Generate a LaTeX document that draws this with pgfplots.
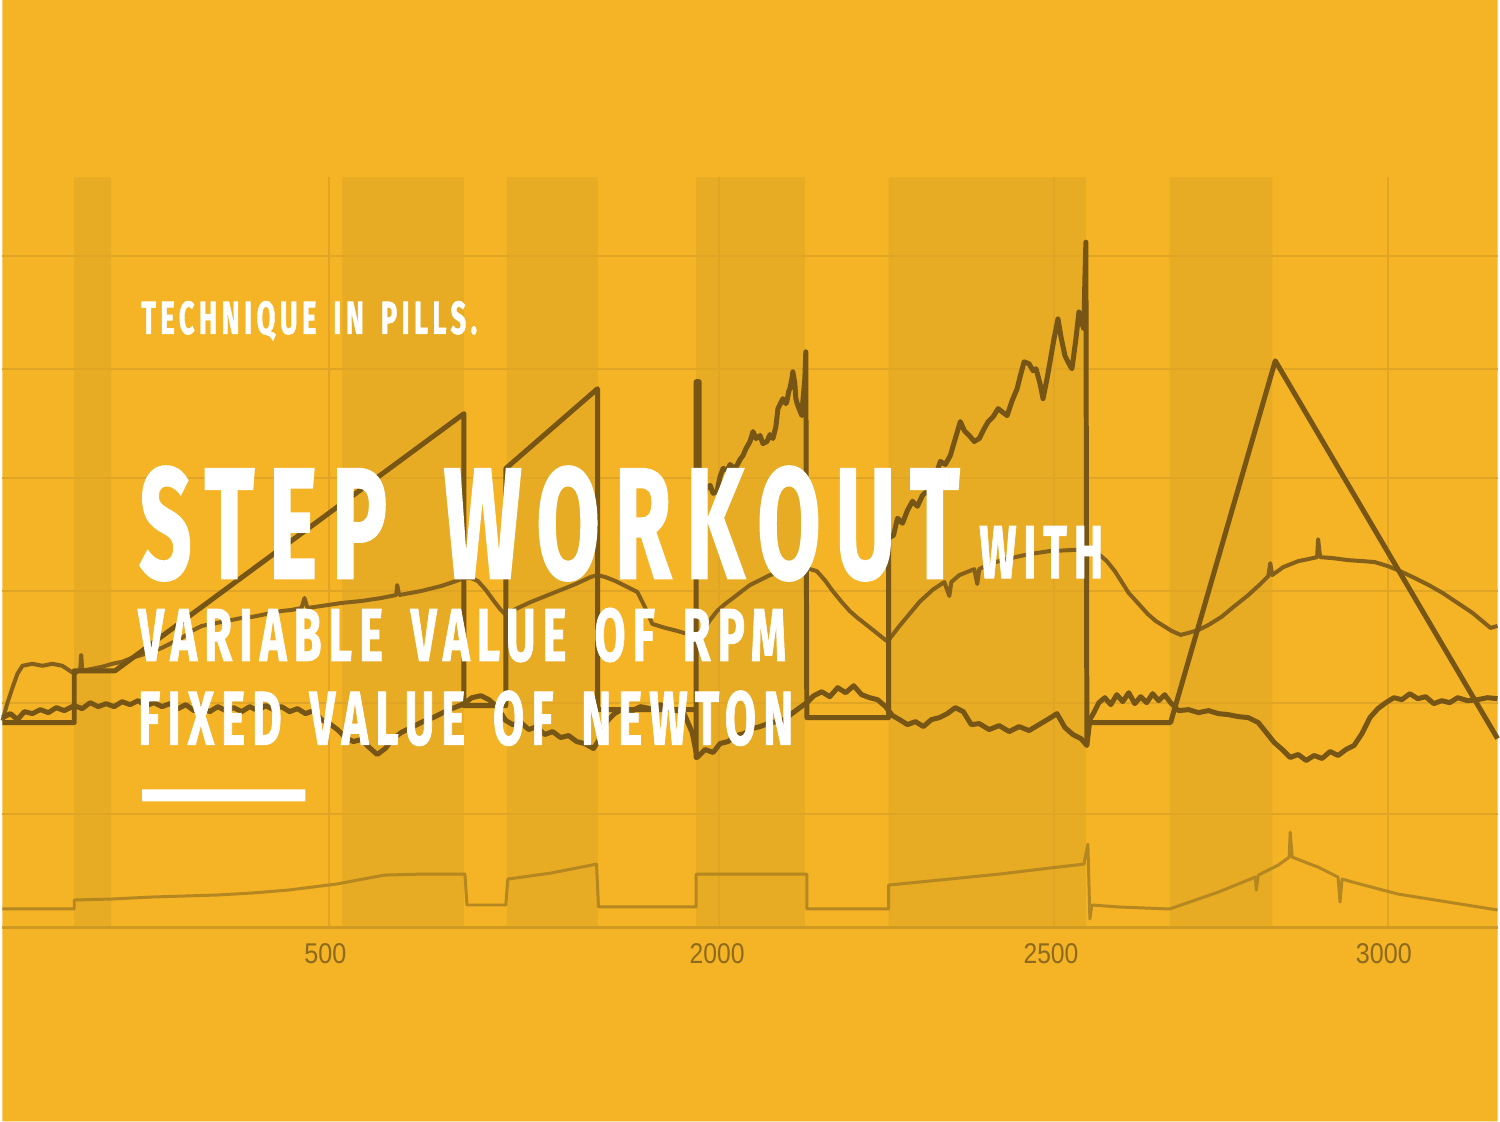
\documentclass[border=0pt]{standalone}
\usepackage{fontspec}
\setmainfont{Fira Sans}
\newfontfamily\headfont{Fira Sans}[LetterSpace=16, FakeBold=1.5]
\newfontfamily\tickfont{Liberation Sans}
\usepackage{graphicx}
\usepackage{pgfplots}
\pgfplotsset{compat=1.18}
\definecolor{bg}{HTML}{F5B326}
\definecolor{band}{HTML}{E7AB24}
\definecolor{gridc}{HTML}{E0A524}
\definecolor{axisc}{HTML}{CF9A24}
\definecolor{dk}{HTML}{775514}
\definecolor{md}{HTML}{84601A}
\definecolor{lt}{HTML}{B48720}
\definecolor{tickc}{HTML}{8C6A1E}
\newcommand{\fit}[3]{\resizebox{#1pt}{#2pt}{\raisebox{0pt}[\height][0pt]{#3}}}
\newcommand{\ws}{\ \hspace{0.22em}}
\begin{document}
\begin{tikzpicture}
\begin{axis}[
  scale only axis, width=1500pt, height=1125pt,
  xmin=0, xmax=1500, ymin=0, ymax=1125, y dir=reverse,
  axis lines=none, xtick=\empty, ytick=\empty, clip=false,
]
% background
\addplot[fill=bg, draw=none] coordinates {(0,0)(1500,0)(1500,1125)(0,1125)(0,0)};
% shaded bands
\addplot[fill=band, draw=none] coordinates {(72,178)(109,178)(109,931)(72,931)(72,178)};
\addplot[fill=band, draw=none] coordinates {(341,178)(463,178)(463,931)(341,931)(341,178)};
\addplot[fill=band, draw=none] coordinates {(506,178)(597,178)(597,931)(506,931)(506,178)};
\addplot[fill=band, draw=none] coordinates {(696,178)(805,178)(805,931)(696,931)(696,178)};
\addplot[fill=band, draw=none] coordinates {(889,178)(1087,178)(1087,931)(889,931)(889,178)};
\addplot[fill=band, draw=none] coordinates {(1171,178)(1274,178)(1274,931)(1171,931)(1171,178)};
% grid
\addplot[gridc, line width=2pt] coordinates {(0,257)(1500,257)};
\addplot[gridc, line width=2pt] coordinates {(0,370)(1500,370)};
\addplot[gridc, line width=2pt] coordinates {(0,480)(1500,480)};
\addplot[gridc, line width=2pt] coordinates {(0,593)(1500,593)};
\addplot[gridc, line width=2pt] coordinates {(0,705)(1500,705)};
\addplot[gridc, line width=2pt] coordinates {(0,817)(1500,817)};
\addplot[gridc, line width=2pt] coordinates {(328,178)(328,931)};
\addplot[gridc, line width=2pt] coordinates {(719,178)(719,931)};
\addplot[gridc, line width=2pt] coordinates {(1055,178)(1055,931)};
\addplot[gridc, line width=2pt] coordinates {(1390,178)(1390,931)};
\addplot[axisc, line width=3pt] coordinates {(0,931)(1500,931)};
% series D (bottom, light)
\addplot[lt, line width=3pt, line join=round] coordinates {
(0,912)(72,912)(72,903)(110,902)(150,900)(215,898)(250,896)(287,893)(335,887)(383,878)(420,877)(464,877)(466,908)(505,908)(507,882)(550,876)(596,867)(598,910)(696,910)(696,877)(807,877)(807,912)(889,912)(889,888)(950,882)(1000,877)(1050,871)(1085,867)(1089,847)(1091,922)(1093,908)(1120,910)(1171,912)(1220,895)(1257,880)(1258,893)(1260,878)(1280,868)(1291,860)(1292,835)(1294,860)(1320,870)(1340,880)(1342,905)(1344,882)(1362,887)(1400,897)(1450,905)(1500,913)};
% series B (smooth cadence-like)
\addplot[md, line width=4pt, line join=round] coordinates {
(0,723)(5,705)(10,690)(15,676)(20,668)(30,666)(40,668)(50,666)(60,668)(66,672)(72,676)(78,672)(79,657)(80,673)(90,671)(100,669)(110,666)(120,664)(130,660)(140,657)(150,654)(160,650)(170,645)(180,640)(190,633)(200,628)(210,626)(220,624)(230,622)(240,620)(250,619)(260,617)(270,615)(280,613)(290,612)(300,610)(303,600)(306,610)(320,608)(340,605)(360,603)(380,600)(395,597)(396,587)(398,597)(420,593)(440,588)(455,583)(463,580)(470,580)(477,583)(485,592)(493,603)(500,612)(505,617)(515,611)(530,604)(545,598)(560,592)(575,586)(590,579)(597,577)(605,579)(615,583)(625,588)(637,594)(645,610)(652,626)(665,630)(677,633)(690,637)(697,640)(703,633)(710,622)(717,613)(725,606)(733,600)(742,593)(750,587)(760,582)(770,577)(783,573)(795,571)(803,570)(810,571)(817,573)(825,582)(833,593)(842,604)(850,613)(858,620)(867,627)(877,635)(887,643)(890,641)(900,628)(910,616)(920,604)(933,592)(945,584)(950,598)(952,584)(960,577)(975,571)(978,586)(980,571)(990,566)(1000,563)(1016,559)(1030,556)(1050,553)(1070,552)(1091,551)(1100,556)(1108,563)(1116,573)(1123,584)(1130,595)(1140,606)(1149,616)(1157,623)(1165,628)(1173,633)(1182,637)(1190,635)(1200,632)(1210,627)(1223,619)(1235,609)(1250,597)(1262,586)(1270,578)(1272,565)(1274,577)(1285,569)(1300,563)(1310,561)(1319,559)(1320,541)(1322,559)(1335,560)(1350,562)(1365,563)(1377,564)(1390,568)(1400,572)(1415,579)(1431,587)(1445,595)(1460,605)(1475,615)(1493,630)(1500,628)};
% series C (noisy, around 700-760)
\addplot[dk, line width=5pt, line join=round] coordinates {
(0,720)(8,716)(15,722)(22,714)(30,716)(38,712)(46,715)(54,710)(62,713)(72,708)(80,711)(88,705)(96,709)(104,706)(112,709)(120,704)(128,707)(136,703)(144,708)(152,705)(160,709)(168,706)(176,711)(184,707)(192,713)(200,710)(208,714)(216,709)(224,713)(232,710)(240,714)(248,709)(256,713)(264,708)(272,712)(280,709)(288,714)(296,711)(304,716)(312,713)(320,722)(328,726)(336,732)(344,740)(352,744)(360,742)(368,750)(376,757)(384,751)(392,741)(400,735)(408,731)(416,727)(424,723)(432,720)(440,716)(448,712)(456,709)(463,706)(471,700)(480,698)(488,702)(496,709)(505,723)(512,727)(520,725)(528,732)(536,729)(544,737)(552,734)(560,740)(568,738)(576,744)(584,746)(593,751)(600,740)(607,723)(614,716)(621,712)(630,714)(640,709)(650,711)(660,707)(670,712)(683,714)(692,735)(697,760)(705,752)(713,755)(720,746)(728,744)(736,738)(744,736)(752,731)(760,729)(768,726)(776,724)(784,722)(792,716)(800,710)(807,705)(814,698)(822,694)(830,699)(838,690)(846,695)(854,688)(862,697)(870,700)(878,702)(886,709)(893,718)(900,722)(908,727)(916,724)(924,729)(932,722)(940,720)(948,716)(956,710)(964,714)(972,727)(980,726)(990,732)(1000,728)(1010,734)(1020,729)(1030,733)(1040,727)(1050,721)(1058,716)(1066,730)(1074,737)(1082,741)(1088,748)(1091,722)(1095,715)(1100,705)(1106,700)(1112,707)(1118,697)(1124,704)(1130,695)(1136,706)(1142,699)(1148,705)(1154,696)(1160,703)(1166,697)(1172,705)(1180,713)(1190,712)(1200,715)(1210,713)(1220,716)(1230,717)(1240,719)(1250,720)(1260,725)(1268,735)(1276,745)(1284,752)(1292,760)(1300,757)(1308,763)(1316,758)(1324,761)(1332,754)(1340,758)(1348,752)(1356,748)(1364,736)(1372,720)(1380,711)(1388,705)(1396,700)(1404,702)(1412,696)(1420,701)(1428,699)(1436,706)(1444,703)(1452,705)(1460,700)(1470,703)(1480,702)(1490,700)(1500,701)};
% series A (ramps / steps)
\addplot[dk, line width=5pt, line join=round] coordinates {
(0,725)(72,725)(72,673)(113,673)(463,415)(463,708)(505,708)(505,470)(597,390)(597,712)(696,712)(696,760)(696,383)(699,383)(699,505)(703,500)(706,490)(710,487)(713,495)(717,493)(720,478)(723,470)(727,472)(730,466)(734,470)(737,467)(740,461)(743,457)(746,450)(750,443)(753,433)(756,440)(760,437)(763,445)(767,443)(770,436)(773,440)(776,428)(778,410)(781,404)(783,400)(786,405)(787,403)(789,392)(790,390)(792,380)(793,373)(795,385)(796,400)(798,407)(800,412)(802,417)(803,403)(805,380)(806,353)(807,720)(889,720)(889,540)(894,537)(898,520)(903,525)(908,512)(913,503)(918,508)(923,497)(928,492)(932,490)(936,478)(941,463)(946,466)(951,457)(956,440)(961,423)(965,432)(970,437)(975,443)(980,440)(985,430)(989,423)(994,418)(999,410)(1004,414)(1008,417)(1013,402)(1018,390)(1021,378)(1025,363)(1030,365)(1034,372)(1037,370)(1041,385)(1044,400)(1048,380)(1051,363)(1055,340)(1059,320)(1062,338)(1066,357)(1070,365)(1073,370)(1077,340)(1080,313)(1083,325)(1085,330)(1086,280)(1087,243)(1088,744)(1090,725)(1172,725)(1277,362)(1500,741)};
% tick labels
\node[anchor=base, inner sep=0, text=tickc] at (axis cs:324,967) {\fit{42}{20}{\tickfont 500}};
\node[anchor=base, inner sep=0, text=tickc] at (axis cs:717,967) {\fit{55}{20}{\tickfont 2000}};
\node[anchor=base, inner sep=0, text=tickc] at (axis cs:1052,967) {\fit{55}{20}{\tickfont 2500}};
\node[anchor=base, inner sep=0, text=tickc] at (axis cs:1386,967) {\fit{56}{20}{\tickfont 3000}};
% titles
\node[anchor=base west, inner sep=0, text=white] at (axis cs:139,335) {\fit{337}{33}{\headfont\bfseries TECHNIQUE\ws IN\ws PILLS.}};
\node[anchor=base west, inner sep=0, text=white] at (axis cs:137,580) {\fit{823}{112}{\headfont\bfseries STEP\ws WORKOUT}};
\node[anchor=base west, inner sep=0, text=white] at (axis cs:980,580) {\fit{124}{52}{\headfont\bfseries WITH}};
\node[anchor=base west, inner sep=0, text=white] at (axis cs:136,663) {\fit{650}{53}{\headfont\bfseries VARIABLE\ws VALUE\ws OF\ws RPM}};
\node[anchor=base west, inner sep=0, text=white] at (axis cs:136,747) {\fit{657}{54}{\headfont\bfseries FIXED\ws VALUE\ws OF\ws NEWTON}};
\addplot[fill=white, draw=none] coordinates {(140,792)(304,792)(304,804)(140,804)(140,792)};
\end{axis}
\end{tikzpicture}
\end{document}
